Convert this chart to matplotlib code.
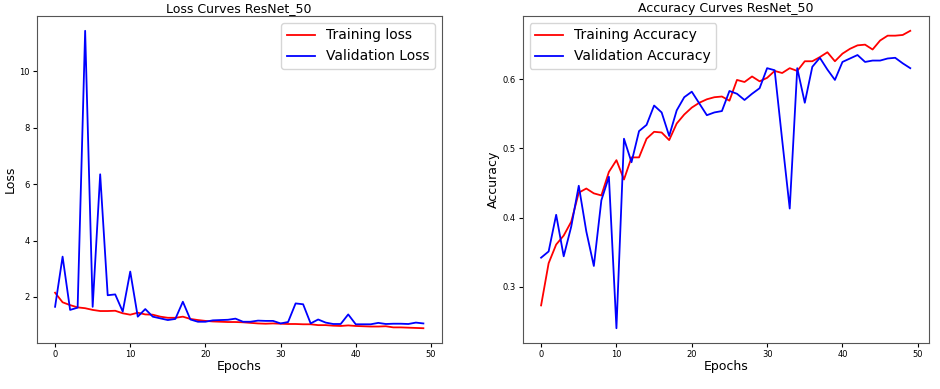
import matplotlib
matplotlib.use("Agg")
import matplotlib.pyplot as plt

epochs = list(range(50))

train_loss = [2.15, 1.81, 1.71, 1.63, 1.60, 1.54, 1.50, 1.50, 1.51, 1.42,
              1.37, 1.44, 1.38, 1.37, 1.30, 1.26, 1.26, 1.30, 1.22, 1.18,
              1.15, 1.13, 1.12, 1.11, 1.11, 1.10, 1.08, 1.06, 1.05, 1.06,
              1.05, 1.04, 1.04, 1.03, 1.03, 1.00, 1.00, 0.98, 0.97, 0.99,
              0.97, 0.96, 0.95, 0.95, 0.96, 0.92, 0.92, 0.91, 0.90, 0.89]
val_loss = [1.65, 3.43, 1.54, 1.62, 11.44, 1.65, 6.35, 2.06, 2.09, 1.48,
            2.90, 1.30, 1.57, 1.30, 1.24, 1.18, 1.22, 1.83, 1.20, 1.12,
            1.12, 1.17, 1.18, 1.19, 1.23, 1.12, 1.12, 1.16, 1.15, 1.15,
            1.06, 1.11, 1.77, 1.74, 1.06, 1.20, 1.09, 1.04, 1.04, 1.38,
            1.03, 1.03, 1.03, 1.08, 1.04, 1.05, 1.05, 1.04, 1.09, 1.06]

train_acc = [0.273, 0.334, 0.361, 0.374, 0.394, 0.436, 0.442, 0.435, 0.432, 0.466,
             0.483, 0.455, 0.487, 0.487, 0.514, 0.524, 0.523, 0.512, 0.536, 0.549,
             0.559, 0.566, 0.571, 0.574, 0.575, 0.569, 0.599, 0.596, 0.604, 0.597,
             0.602, 0.612, 0.609, 0.616, 0.612, 0.626, 0.626, 0.632, 0.639, 0.626,
             0.637, 0.644, 0.649, 0.650, 0.643, 0.656, 0.663, 0.663, 0.664, 0.670]
val_acc = [0.342, 0.351, 0.404, 0.344, 0.387, 0.446, 0.380, 0.330, 0.425, 0.459,
           0.240, 0.514, 0.480, 0.525, 0.534, 0.562, 0.552, 0.518, 0.555, 0.574,
           0.582, 0.565, 0.548, 0.552, 0.554, 0.583, 0.579, 0.570, 0.579, 0.587,
           0.616, 0.613, 0.512, 0.413, 0.616, 0.566, 0.618, 0.631, 0.614, 0.599,
           0.625, 0.630, 0.635, 0.625, 0.627, 0.627, 0.630, 0.631, 0.623, 0.616]

fig = plt.figure(figsize=(9.4, 3.89), dpi=100)
ax1 = fig.add_axes([0.039, 0.118, 0.431, 0.841])
ax2 = fig.add_axes([0.556, 0.118, 0.432, 0.841])

# loss
ax1.plot(epochs, train_loss, color="red", lw=1.3, label="Training loss")
ax1.plot(epochs, val_loss, color="blue", lw=1.3, label="Validation Loss")
ax1.set_title("Loss Curves ResNet_50", fontsize=9, pad=3)
ax1.set_xlabel("Epochs", fontsize=9, labelpad=1)
ax1.set_ylabel("Loss", fontsize=9, labelpad=2)
ax1.set_yticks([2, 4, 6, 8, 10])
ax1.legend(loc="upper right", fontsize=10)

# accuracy
ax2.plot(epochs, train_acc, color="red", lw=1.3, label="Training Accuracy")
ax2.plot(epochs, val_acc, color="blue", lw=1.3, label="Validation Accuracy")
ax2.set_title("Accuracy Curves ResNet_50", fontsize=9, pad=3)
ax2.set_xlabel("Epochs", fontsize=9, labelpad=1)
ax2.set_ylabel("Accuracy", fontsize=9, labelpad=2)
ax2.set_yticks([0.3, 0.4, 0.5, 0.6])
ax2.legend(loc="upper left", fontsize=10)

for ax in (ax1, ax2):
    ax.tick_params(labelsize=6, length=3, pad=2)
    for s in ax.spines.values():
        s.set_color("#555555")

plt.savefig("out.png", dpi=100)
